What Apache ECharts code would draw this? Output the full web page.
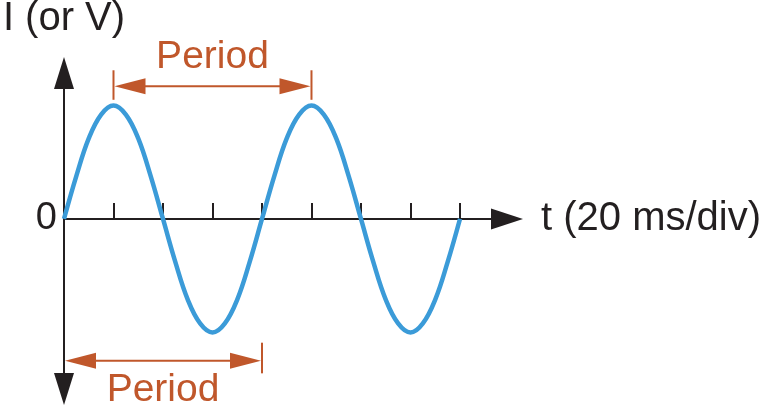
<!DOCTYPE html>
<html><head><meta charset="utf-8">
<script src="https://cdn.jsdelivr.net/npm/echarts@6/dist/echarts.min.js"></script>
<style>html,body{margin:0;padding:0;background:#fff}#c{width:768px;height:414px}</style>
</head><body><div id="c"></div>
<script>
// time in divisions (20 ms/div)
const timeDiv = [0,0.25,0.5,0.75,1,1.25,1.5,1.75,2,2.25,2.5,2.75,3,3.25,3.5,3.75,4,4.25,4.5,4.75,5,5.25,5.5,5.75,6,6.25,6.5,6.75,7,7.25,7.5,7.75,8];
// signal value (relative to peak)
const signal = [0,0.38,0.71,0.92,1,0.92,0.71,0.38,0,-0.38,-0.71,-0.92,-1,-0.92,-0.71,-0.38,0,0.38,0.71,0.92,1,0.92,0.71,0.38,0,-0.38,-0.71,-0.92,-1,-0.92,-0.71,-0.38,0];
const tickDivs = [1,2,3,4,5,6,7,8];
const zeroTick = [0];
const periodLabels = ['Period','Period'];
const periodFrom = [1, 0];
const periodTo = [5, 4];
const periodLevel = [1.17, -1.25];
const labelLevel = [1.425, -1.505];
const endTicks = [[1,5],[4]];
const tickSpan = [[1.05,1.31],[-1.09,-1.36]];
const yAxisName = 'I (or V)';
const xAxisName = 't (20 ms/div)';

const FONT = '"Liberation Sans", Arial, Helvetica, sans-serif';
const INK = '#231f20';
const ORANGE = '#c0572b';
const BLUE = '#3b9bd8';

const chart = echarts.init(document.getElementById('c'), null, {renderer:'canvas'});
chart.setOption({
  animation: false,
  backgroundColor: '#fff',
  grid: {left: 64, top: 73, width: 443, height: 316, outerBoundsMode: 'none', containLabel: false},
  xAxis: {
    type: 'value', min: 0, max: 8.95,
    name: xAxisName, nameLocation: 'end', nameGap: 34,
    nameTextStyle: {fontSize: 40, color: INK, fontFamily: FONT, verticalAlign: 'middle'},
    axisLine: {show: true, onZero: true, symbol: ['none','triangle'], symbolSize: [21, 32], lineStyle: {color: INK, width: 2}},
    axisTick: {show: true, inside: true, length: 16, customValues: tickDivs, lineStyle: {color: INK, width: 2}},
    axisLabel: {show: false},
    splitLine: {show: false}
  },
  yAxis: {
    type: 'value', min: -1.498, max: 1.286,
    name: yAxisName, nameLocation: 'end', nameGap: 34,
    nameTextStyle: {fontSize: 40, color: INK, fontFamily: FONT},
    axisLine: {show: true, onZero: true, symbol: ['triangle','triangle'], symbolSize: [20, 32], lineStyle: {color: INK, width: 2}},
    axisTick: {show: false},
    axisLabel: {show: true, customValues: zeroTick, formatter: v => String(v), fontSize: 38, color: INK, fontFamily: FONT, margin: 7},
    splitLine: {show: false}
  },
  series: [
    {
      type: 'line', smooth: 0.4, symbol: 'none', z: 5,
      data: timeDiv.map((t, i) => [t, signal[i]]),
      lineStyle: {color: BLUE, width: 4.5}
    },
    {
      type: 'custom', z: 6, clip: false,
      data: periodLabels.map((_, i) => [periodFrom[i], periodLevel[i]]),
      renderItem: function (params, api) {
        const i = params.dataIndex;
        const y = periodLevel[i];
        const a = api.coord([periodFrom[i], y]);
        const b = api.coord([periodTo[i], y]);
        const L = 32, H = 8;
        const children = [
          {type: 'line', shape: {x1: a[0] + L - 2, y1: a[1], x2: b[0] - L + 2, y2: b[1]}, style: {stroke: ORANGE, lineWidth: 2}},
          {type: 'polygon', shape: {points: [[a[0] + 1, a[1]], [a[0] + L, a[1] - H], [a[0] + L, a[1] + H]]}, style: {fill: ORANGE}},
          {type: 'polygon', shape: {points: [[b[0] - 1, b[1]], [b[0] - L, b[1] - H], [b[0] - L, b[1] + H]]}, style: {fill: ORANGE}}
        ];
        endTicks[i].forEach(function (t) {
          const p1 = api.coord([t, tickSpan[i][0]]);
          const p2 = api.coord([t, tickSpan[i][1]]);
          children.push({type: 'line', shape: {x1: p1[0], y1: p1[1], x2: p2[0], y2: p2[1]}, style: {stroke: ORANGE, lineWidth: 2}});
        });
        const c = api.coord([(periodFrom[i] + periodTo[i]) / 2, labelLevel[i]]);
        children.push({type: 'text', x: c[0], y: c[1], style: {text: periodLabels[i], fill: ORANGE, fontSize: 39, fontFamily: FONT, align: 'center', verticalAlign: 'middle'}});
        return {type: 'group', children: children};
      }
    }
  ]
});
</script>
</body></html>
